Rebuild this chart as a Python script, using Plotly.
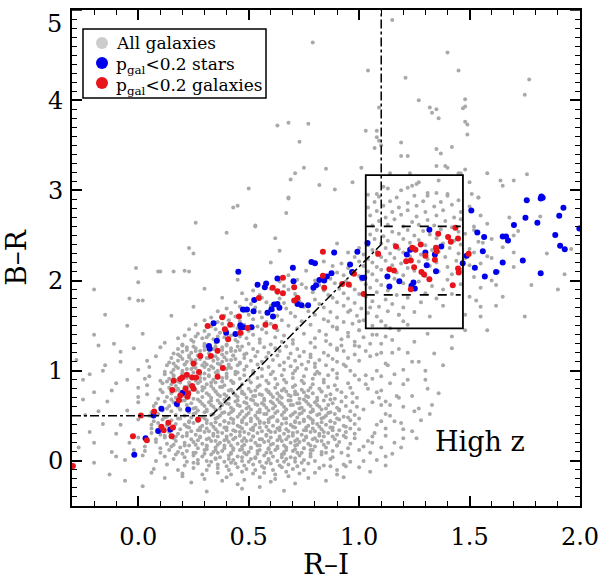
import plotly.graph_objects as go

# ---------------- data ----------------
gray_pts = [
(.02,-.28),(.31,-.34),(.55,-.29),(.66,-.33),(.47,-.31),
(.24,-.24),(.45,-.26),(.6,-.23),(.71,-.25),(.85,-.22),(.38,-.22),
(.12,-.19),(.3,-.2),(.4,-.18),(.48,-.21),(.55,-.18),(.62,-.2),(.68,-.17),(.77,-.19),(.93,-.18),(.2,-.17),
(.2,-.14),(.29,-.15),(.36,-.13),(.42,-.15),(.47,-.12),(.52,-.14),(.57,-.13),(.62,-.15),(.67,-.12),(.73,-.14),(.8,-.13),(.9,-.15),(1.05,-.12),(.06,-.13),
(.07,-.09),(.18,-.1),(.25,-.08),(.31,-.1),(.36,-.08),(.41,-.1),(.45,-.07),(.49,-.09),(.53,-.1),(.57,-.08),(.61,-.1),(.65,-.07),(.7,-.09),(.75,-.1),(.82,-.08),(.9,-.1),(1.0,-.07),
(.13,-.04),(.21,-.05),(.27,-.03),(.32,-.05),(.36,-.04),(.4,-.06),(.44,-.03),(.48,-.05),(.52,-.04),(.56,-.06),(.6,-.03),(.64,-.05),(.68,-.04),(.72,-.06),(.77,-.03),(.84,-.05),(.93,-.04),(1.12,-.05),
(-.06,.01),(.08,0),(.16,.02),(.22,-.01),(.27,.01),(.31,0),(.35,.02),(.39,-.01),(.43,.01),(.47,0),(.51,.02),(.55,-.01),(.59,.01),(.63,0),(.67,.02),(.71,-.01),(.75,.01),(.8,0),(.87,.02),(.96,-.01),(1.08,.01),
(.02,.06),(.12,.05),(.17,.07),(.21,.04),(.25,.06),(.29,.05),(.33,.07),(.37,.04),(.41,.06),(.45,.05),(.49,.07),(.53,.04),(.57,.06),(.61,.05),(.65,.07),(.69,.04),(.73,.06),(.78,.05),(.83,.07),(.88,.04),(.95,.06),(1.12,.05),
(-.12,.1),(.03,.11),(.1,.09),(.14,.12),(.18,.1),(.22,.11),(.26,.09),(.3,.12),(.34,.1),(.38,.11),(.42,.09),(.46,.12),(.5,.1),(.54,.11),(.58,.09),(.62,.12),(.66,.1),(.7,.11),(.74,.09),(.78,.12),(.83,.1),(.88,.11),(.92,.09),(1.0,.12),(1.05,.09),
(.03,.16),(.1,.14),(.15,.16),(.19,.15),(.23,.17),(.27,.14),(.31,.16),(.35,.15),(.39,.17),(.43,.14),(.47,.16),(.51,.15),(.55,.17),(.59,.14),(.63,.16),(.67,.15),(.71,.17),(.75,.14),(.8,.16),(.85,.15),(.9,.17),(.95,.14),(1.02,.16),(1.1,.15),
(-.2,.2),(.08,.21),(.13,.19),(.17,.22),(.21,.2),(.25,.21),(.29,.19),(.33,.22),(.37,.2),(.41,.21),(.45,.19),(.49,.22),(.53,.2),(.57,.21),(.61,.19),(.65,.22),(.69,.2),(.73,.21),(.77,.19),(.81,.22),(.86,.2),(.91,.21),(.96,.19),(1.04,.22),(1.16,.2),
(0,.26),(.08,.24),(.12,.26),(.16,.25),(.2,.27),(.24,.24),(.28,.26),(.32,.25),(.36,.27),(.4,.24),(.44,.26),(.48,.25),(.52,.27),(.56,.24),(.6,.26),(.64,.25),(.68,.27),(.72,.24),(.76,.26),(.8,.25),(.84,.27),(.89,.24),(.94,.26),(.98,.25),(1.06,.27),
(-.1,.3),(.06,.31),(.1,.29),(.14,.32),(.18,.3),(.22,.31),(.26,.29),(.3,.32),(.34,.3),(.38,.31),(.42,.29),(.46,.32),(.5,.3),(.54,.31),(.58,.29),(.62,.32),(.66,.3),(.7,.31),(.74,.29),(.78,.32),(.82,.3),(.86,.31),(.9,.29),(.94,.32),(.98,.3),(1.07,.31),(1.24,.33),
(.06,.36),(.11,.34),(.15,.36),(.19,.35),(.23,.37),(.27,.34),(.31,.36),(.35,.35),(.39,.37),(.43,.34),(.47,.36),(.51,.35),(.55,.37),(.59,.34),(.63,.36),(.67,.35),(.71,.37),(.75,.34),(.79,.36),(.83,.35),(.87,.37),(.91,.34),(.96,.36),(1.0,.35),(1.12,.36),
(-.16,.41),(.06,.4),(.09,.42),(.13,.39),(.17,.41),(.21,.4),(.25,.42),(.29,.39),(.33,.41),(.37,.4),(.41,.42),(.45,.39),(.49,.41),(.53,.4),(.57,.42),(.61,.39),(.65,.41),(.69,.4),(.73,.42),(.77,.39),(.81,.41),(.85,.4),(.89,.42),(.93,.39),(.98,.41),(1.08,.4),(1.19,.42),
(0,.46),(.07,.44),(.11,.46),(.15,.45),(.19,.47),(.23,.44),(.27,.46),(.31,.45),(.35,.47),(.39,.44),(.43,.46),(.47,.45),(.51,.47),(.55,.44),(.59,.46),(.63,.45),(.67,.47),(.71,.44),(.75,.46),(.79,.45),(.83,.47),(.87,.44),(.91,.46),(.96,.45),(1.0,.47),(1.1,.44),
(-.24,.51),(.05,.5),(.09,.52),(.13,.49),(.17,.51),(.21,.5),(.25,.52),(.29,.49),(.33,.51),(.37,.5),(.41,.52),(.45,.49),(.49,.51),(.53,.5),(.57,.52),(.61,.49),(.65,.51),(.69,.5),(.73,.52),(.77,.49),(.81,.51),(.85,.5),(.89,.52),(.93,.49),(.98,.51),(1.14,.5),
(-.05,.56),(.06,.54),(.11,.56),(.15,.55),(.19,.57),(.23,.54),(.27,.56),(.31,.55),(.35,.57),(.39,.54),(.43,.56),(.47,.55),(.51,.57),(.55,.54),(.59,.56),(.63,.55),(.67,.57),(.71,.54),(.75,.56),(.79,.55),(.83,.57),(.87,.54),(.91,.56),(.96,.55),(1.02,.57),(1.27,.58),
(.07,.61),(.1,.59),(.14,.61),(.18,.6),(.22,.62),(.26,.59),(.3,.61),(.34,.6),(.38,.62),(.42,.59),(.46,.61),(.5,.6),(.54,.62),(.58,.59),(.62,.61),(.66,.6),(.7,.62),(.74,.59),(.78,.61),(.82,.6),(.86,.62),(.9,.59),(.94,.61),(.99,.6),(1.1,.62),(1.2,.6),
(-.14,.66),(.08,.64),(.12,.66),(.16,.65),(.2,.67),(.24,.64),(.28,.66),(.32,.65),(.36,.67),(.4,.64),(.44,.66),(.48,.65),(.52,.67),(.56,.64),(.6,.66),(.64,.65),(.68,.67),(.72,.64),(.76,.66),(.8,.65),(.84,.67),(.88,.64),(.92,.66),(.97,.65),(1.12,.66),
(0,.71),(.09,.69),(.13,.71),(.17,.7),(.21,.72),(.25,.69),(.29,.71),(.33,.7),(.37,.72),(.41,.69),(.45,.71),(.49,.7),(.53,.72),(.57,.69),(.61,.71),(.65,.7),(.69,.72),(.73,.69),(.77,.71),(.81,.7),(.85,.72),(.89,.69),(.94,.71),(.99,.7),(1.17,.72),
(-.2,.76),(.04,.74),(.11,.76),(.15,.75),(.19,.77),(.23,.74),(.27,.76),(.31,.75),(.35,.77),(.39,.74),(.43,.76),(.47,.75),(.51,.77),(.55,.74),(.59,.76),(.63,.75),(.67,.77),(.71,.74),(.75,.76),(.79,.75),(.83,.77),(.87,.74),(.92,.76),(.97,.75),(1.08,.76),
(0,.81),(.1,.79),(.14,.81),(.18,.8),(.22,.82),(.26,.79),(.3,.81),(.34,.8),(.38,.82),(.42,.79),(.46,.81),(.5,.8),(.54,.82),(.58,.79),(.62,.81),(.66,.8),(.7,.82),(.74,.79),(.78,.81),(.82,.8),(.86,.82),(.9,.79),(.96,.81),(1.04,.8),(1.31,.8),
(-.1,.86),(.04,.84),(.11,.86),(.15,.85),(.19,.87),(.23,.84),(.27,.86),(.31,.85),(.35,.87),(.39,.84),(.43,.86),(.47,.85),(.51,.87),(.55,.84),(.59,.86),(.63,.85),(.67,.87),(.71,.84),(.75,.86),(.79,.85),(.84,.87),(.89,.84),(.95,.86),(1.03,.85),(1.14,.86),
(.03,.91),(.1,.89),(.14,.91),(.18,.9),(.22,.92),(.26,.89),(.3,.91),(.34,.9),(.38,.92),(.42,.89),(.46,.91),(.5,.9),(.54,.92),(.58,.89),(.62,.91),(.66,.9),(.7,.92),(.74,.89),(.79,.91),(.84,.9),(.9,.92),(1.0,.9),(1.06,.91),
(-.22,.96),(.05,.94),(.12,.96),(.16,.95),(.2,.97),(.24,.94),(.28,.96),(.32,.95),(.36,.97),(.4,.94),(.44,.96),(.48,.95),(.52,.97),(.56,.94),(.6,.96),(.65,.95),(.7,.97),(.75,.94),(.8,.96),(.86,.95),(.9,.97),(.98,.95),(1.1,.94),
(0,1.01),(.12,.99),(.16,1.01),(.2,1.0),(.24,1.02),(.28,.99),(.32,1.01),(.36,1.0),(.4,1.02),(.44,.99),(.48,1.01),(.52,1.0),(.56,1.02),(.61,.99),(.66,1.01),(.71,1.0),(.76,1.02),(.81,.99),(.88,1.01),(.96,1.0),(1.2,1.01),
(-.15,1.06),(.05,1.04),(.13,1.06),(.17,1.05),(.21,1.07),(.25,1.04),(.29,1.06),(.33,1.05),(.37,1.07),(.41,1.04),(.45,1.06),(.49,1.05),(.54,1.07),(.59,1.04),(.64,1.06),(.69,1.05),(.74,1.07),(.8,1.04),(.85,1.06),(.94,1.05),(1.13,1.06),
(.04,1.11),(.14,1.09),(.18,1.11),(.22,1.1),(.26,1.12),(.3,1.09),(.34,1.11),(.38,1.1),(.42,1.12),(.46,1.09),(.51,1.11),(.56,1.1),(.61,1.12),(.66,1.09),(.71,1.11),(.77,1.1),(.82,1.12),(.9,1.1),(1.0,1.11),(1.24,1.1),
(.08,1.16),(.15,1.14),(.19,1.16),(.23,1.15),(.27,1.17),(.31,1.14),(.35,1.16),(.39,1.15),(.43,1.17),(.48,1.14),(.53,1.16),(.58,1.15),(.63,1.17),(.68,1.14),(.73,1.16),(.78,1.15),(.86,1.17),(.95,1.14),(1.05,1.16),
(-.08,1.21),(.16,1.19),(.2,1.21),(.24,1.2),(.28,1.22),(.32,1.19),(.36,1.21),(.4,1.2),(.44,1.22),(.49,1.19),(.54,1.21),(.59,1.2),(.64,1.22),(.69,1.19),(.75,1.21),(.84,1.2),(.93,1.22),(1.1,1.2),
(.1,1.26),(.18,1.24),(.22,1.26),(.26,1.25),(.3,1.27),(.34,1.24),(.38,1.26),(.42,1.25),(.47,1.27),(.52,1.24),(.57,1.26),(.62,1.25),(.67,1.27),(.72,1.24),(.8,1.26),(.9,1.25),(1.0,1.27),(1.18,1.24),
(-.18,1.28),(.12,1.31),(.2,1.29),(.25,1.32),(.3,1.3),(.35,1.31),(.4,1.29),(.45,1.32),(.5,1.3),(.55,1.31),(.6,1.29),(.65,1.32),(.7,1.3),(.78,1.31),(.87,1.29),(.98,1.32),(1.1,1.3),
(.31,.13),(.35,.12),(.39,.14),(.43,.12),(.47,.13),(.51,.14),(.55,.12),(.59,.13),(.63,.14),(.67,.12),(.71,.13),(.75,.14),(.79,.12),
(.27,.23),(.31,.24),(.35,.22),(.39,.23),(.43,.24),(.47,.22),(.51,.23),(.55,.24),(.59,.22),(.63,.23),(.67,.24),(.71,.22),(.75,.23),(.79,.24),(.83,.22),
(.24,.33),(.28,.34),(.32,.33),(.36,.32),(.4,.34),(.44,.33),(.48,.32),(.52,.34),(.56,.33),(.6,.32),(.64,.34),(.68,.33),(.72,.32),(.76,.34),(.8,.33),(.84,.32),(.88,.34),
(.23,.43),(.27,.44),(.31,.42),(.35,.43),(.39,.44),(.43,.42),(.47,.43),(.51,.44),(.55,.42),(.59,.43),(.63,.44),(.67,.42),(.71,.43),(.75,.44),(.79,.42),(.83,.43),(.87,.44),
(.26,.53),(.3,.54),(.34,.52),(.38,.53),(.42,.54),(.46,.52),(.5,.53),(.54,.54),(.58,.52),(.62,.53),(.66,.54),(.7,.52),(.74,.53),(.78,.54),(.82,.52),(.86,.53),
(.29,.63),(.33,.62),(.37,.64),(.41,.63),(.45,.62),(.49,.64),(.53,.63),(.57,.62),(.61,.64),(.65,.63),(.69,.62),(.73,.64),(.77,.63),(.81,.62),
(.32,.73),(.36,.74),(.4,.72),(.44,.73),(.48,.74),(.52,.72),(.56,.73),(.6,.74),(.64,.72),(.68,.73),(.72,.74),(.76,.72),
(.35,.03),(.41,.02),(.47,.04),(.53,.03),(.59,.02),(.65,.04),(.71,.03),
(.17,.83),(.21,.82),(.25,.83),(.29,.82),(.33,.83),(.37,.82),
(.16,.93),(.2,.94),(.24,.93),(.28,.92),(.32,.94),(.36,.93),(.4,.92),
(.18,1.03),(.22,1.02),(.26,1.03),(.3,1.04),(.34,1.03),(.38,1.02),(.42,1.03),
(.2,1.13),(.24,1.12),(.28,1.13),(.32,1.14),(.36,1.13),(.4,1.12),(.44,1.13),
(.22,1.23),(.26,1.22),(.3,1.23),(.34,1.24),(.38,1.23),(.42,1.22),(.46,1.23),
(.2,.08),(.25,.09),(.3,.08),(.36,.09),(.42,.08),(.48,.09),(.54,.08),(.6,.09),(.66,.08),(.72,.09),(.78,.08),(.85,.09),
(.16,.18),(.21,.17),(.26,.18),(.31,.17),(.36,.18),(.42,.17),(.48,.18),(.54,.17),(.6,.18),(.66,.17),(.72,.18),(.78,.17),(.84,.18),(.9,.17),
(.12,.28),(.17,.27),(.22,.28),(.28,.27),(.34,.28),(.4,.27),(.46,.28),(.52,.27),(.58,.28),(.64,.27),(.7,.28),(.76,.27),(.82,.28),(.88,.27),(.93,.28),
(.1,.38),(.16,.37),(.22,.38),(.28,.37),(.34,.38),(.4,.37),(.46,.38),(.52,.37),(.58,.38),(.64,.37),(.7,.38),(.76,.37),(.82,.38),(.88,.37),(.94,.38),
(.12,.48),(.18,.47),(.24,.48),(.3,.47),(.36,.48),(.42,.47),(.48,.48),(.54,.47),(.6,.48),(.66,.47),(.72,.48),(.78,.47),(.84,.48),(.9,.47),(.95,.48),
(.13,.58),(.19,.57),(.25,.58),(.31,.57),(.37,.58),(.43,.57),(.49,.58),(.55,.57),(.61,.58),(.67,.57),(.73,.58),(.79,.57),(.85,.58),(.91,.57),
(.15,.68),(.21,.67),(.27,.68),(.33,.67),(.39,.68),(.45,.67),(.51,.68),(.57,.67),(.63,.68),(.69,.67),(.75,.68),(.81,.67),(.87,.68),
(.17,.78),(.23,.77),(.29,.78),(.35,.77),(.41,.78),(.47,.77),(.53,.78),(.59,.77),(.65,.78),(.71,.77),(.77,.78),(.83,.77),
(.25,-.02),(.33,-.01),(.42,-.02),(.5,-.01),(.58,-.02),(.66,-.01),(.74,-.02),
(.13,.88),(.18,.88),(.23,.87),(.28,.88),(.33,.87),(.38,.88),(.43,.87),
(.15,.98),(.2,.97),(.25,.98),(.3,.97),(.35,.98),(.4,.97),(.45,.98),
(.16,1.08),(.21,1.07),(.26,1.08),(.31,1.07),(.36,1.08),(.41,1.07),(.46,1.08),
(.18,1.18),(.23,1.17),(.28,1.18),(.33,1.17),(.38,1.18),(.43,1.17),(.48,1.18),
(.2,1.28),(.25,1.27),(.3,1.28),(.35,1.27),(.4,1.28),(.45,1.27),
(.26,1.38),(.31,1.37),(.36,1.38),(.41,1.37),(.46,1.38),
(.72,1.03),(.8,1.08),(.88,1.13),(.78,1.18),(.9,1.23),(.85,1.33),(.95,1.38),(.9,1.48),(1.0,1.55),(.95,1.65),
(1.05,1.7),(.86,1.55),(.92,1.28),(.98,1.18),(.82,.97),(.93,1.07),
(.18,1.36),(.24,1.34),(.29,1.36),(.34,1.35),(.39,1.37),(.44,1.34),(.49,1.36),(.55,1.35),(.62,1.37),(.7,1.34),(.8,1.36),(.92,1.35),(1.02,1.37),
(.02,1.41),(.21,1.39),(.27,1.41),(.32,1.4),(.37,1.42),(.42,1.39),(.47,1.41),(.52,1.4),(.58,1.42),(.66,1.39),(.75,1.41),(.85,1.4),(.95,1.42),(1.08,1.4),
(.23,1.46),(.3,1.44),(.35,1.46),(.4,1.45),(.45,1.47),(.5,1.44),(.56,1.46),(.63,1.45),(.72,1.47),(.82,1.44),(.9,1.46),(1.0,1.45),(1.14,1.47),
(-.05,1.5),(.26,1.51),(.33,1.49),(.38,1.52),(.43,1.5),(.48,1.51),(.54,1.49),(.6,1.52),(.68,1.5),(.78,1.51),(.88,1.49),(.97,1.52),(1.06,1.5),(1.22,1.51),
(.3,1.56),(.36,1.54),(.41,1.56),(.46,1.55),(.52,1.57),(.58,1.54),(.65,1.56),(.74,1.55),(.84,1.57),(.93,1.54),(1.02,1.56),(1.1,1.55),
(.15,1.61),(.33,1.59),(.39,1.61),(.44,1.6),(.5,1.62),(.56,1.59),(.63,1.61),(.71,1.6),(.8,1.62),(.9,1.59),(.99,1.61),(1.08,1.6),(1.18,1.62),(1.32,1.6),
(.36,1.66),(.42,1.64),(.48,1.66),(.55,1.65),(.61,1.67),(.69,1.64),(.77,1.66),(.87,1.65),(.96,1.67),(1.04,1.64),(1.13,1.66),(1.25,1.65),
(.25,1.71),(.4,1.69),(.46,1.71),(.53,1.7),(.6,1.72),(.67,1.69),(.75,1.71),(.84,1.7),(.93,1.72),(1.01,1.69),(1.09,1.71),(1.2,1.7),(1.38,1.72),
(.44,1.76),(.51,1.74),(.58,1.76),(.66,1.75),(.73,1.77),(.82,1.74),(.9,1.76),(.98,1.75),(1.06,1.77),(1.15,1.74),(1.28,1.76),
(.02,1.78),(.38,1.81),(.49,1.79),(.56,1.81),(.64,1.8),(.72,1.82),(.8,1.79),(.88,1.81),(.95,1.8),(1.03,1.82),(1.12,1.79),(1.22,1.81),(1.35,1.8),(1.5,1.82),
(.47,1.86),(.55,1.84),(.63,1.86),(.71,1.85),(.79,1.87),(.86,1.84),(.93,1.86),(1.0,1.85),(1.08,1.87),(1.17,1.84),(1.3,1.86),(1.42,1.85),
(-.2,1.9),(.3,1.91),(.52,1.89),(.6,1.91),(.68,1.9),(.76,1.92),(.84,1.89),(.91,1.91),(.98,1.9),(1.05,1.92),(1.13,1.89),(1.25,1.91),(1.38,1.9),(1.55,1.92),
(.58,1.96),(.66,1.94),(.74,1.96),(.82,1.95),(.89,1.97),(.96,1.94),(1.03,1.96),(1.1,1.95),(1.2,1.97),(1.33,1.94),(1.46,1.96),
(0,1.98),(.45,2.01),(.64,1.99),(.72,2.01),(.8,2.0),(.87,2.02),(.94,1.99),(1.01,2.01),(1.08,2.0),(1.16,2.02),(1.27,1.99),(1.4,2.01),(1.6,2.0),
(.68,2.06),(.85,2.04),(.93,2.06),(1.0,2.05),(1.06,2.07),(1.13,2.04),(1.2,2.06),(1.3,2.05),(1.42,2.07),(1.52,2.04),
(.1,2.1),(.16,2.1),(.21,2.11),(.76,2.11),(.9,2.09),(.97,2.11),(1.04,2.1),(1.1,2.12),(1.17,2.09),(1.25,2.11),(1.36,2.1),(1.46,2.12),(1.63,2.1),
(.88,2.16),(.95,2.14),(1.02,2.16),(1.08,2.15),(1.15,2.17),(1.22,2.14),(1.32,2.16),(1.4,2.15),(1.5,2.17),(1.7,2.15),
(.6,2.2),(.84,2.21),(.92,2.19),(1.0,2.21),(1.06,2.2),(1.12,2.22),(1.19,2.19),(1.27,2.21),(1.35,2.2),(1.44,2.22),(1.55,2.19),
(.98,2.26),(1.04,2.24),(1.1,2.26),(1.16,2.25),(1.23,2.27),(1.31,2.24),(1.39,2.26),(1.48,2.25),(1.58,2.27),
(.25,2.3),(.95,2.31),(1.02,2.29),(1.08,2.32),(1.14,2.3),(1.2,2.31),(1.28,2.29),(1.36,2.32),(1.45,2.3),(1.52,2.31),
(.23,2.36),(1.0,2.36),(1.06,2.34),(1.12,2.36),(1.18,2.35),(1.25,2.37),(1.33,2.34),(1.41,2.36),(1.5,2.35),(1.65,2.37),
(.9,2.41),(1.04,2.39),(1.1,2.41),(1.16,2.4),(1.23,2.42),(1.3,2.39),(1.38,2.41),(1.46,2.4),(1.56,2.42),
(.62,2.47),(1.07,2.46),(1.13,2.44),(1.2,2.46),(1.27,2.45),(1.35,2.47),(1.43,2.44),(1.6,2.46),
(.4,2.53),(1.05,2.51),(1.11,2.49),(1.18,2.52),(1.25,2.5),(1.32,2.51),(1.4,2.49),(1.48,2.52),(1.7,2.5),
(.53,2.6),(1.08,2.56),(1.15,2.54),(1.22,2.56),(1.29,2.55),(1.37,2.57),(1.45,2.54),(1.52,2.56),
(.26,2.64),(1.06,2.61),(1.13,2.62),(1.2,2.6),(1.27,2.62),(1.34,2.61),(1.42,2.59),(1.58,2.63),
(1.09,2.66),(1.16,2.68),(1.24,2.65),(1.31,2.67),(1.39,2.66),(1.46,2.68),
(1.05,2.72),(1.12,2.7),(1.19,2.73),(1.26,2.71),(1.35,2.72),(1.43,2.7),(1.55,2.72),(1.82,2.71),
(.67,2.75),(1.08,2.77),(1.15,2.76),(1.22,2.78),(1.3,2.76),(1.38,2.78),(1.46,2.76),
(.43,2.81),(.45,2.83),(1.04,2.81),(1.11,2.83),(1.18,2.81),(1.26,2.83),(1.34,2.82),(1.42,2.84),(1.5,2.82),
(1.07,2.87),(1.14,2.88),(1.22,2.86),(1.29,2.88),(1.37,2.87),(1.45,2.89),
(.68,2.91),(1.09,2.93),(1.17,2.92),(1.25,2.94),(1.31,2.94),(1.4,2.94),(1.54,2.92),
(.79,4.64),(1.15,4.89),(1.04,4.33),(1.21,4.25),(1.4,4.53),(1.45,4.33),(1.77,4.23),(1.75,4.06),(.77,3.74),
(1.27,4.0),(1.32,3.92),(1.35,3.9),(1.33,3.86),(1.36,3.8),(1.48,4.01),(1.48,3.93),(1.47,3.91),(1.48,3.76),
(1.49,3.73),(1.49,3.62),(1.09,3.92),(1.03,3.66),(1.08,3.66),(1.08,3.59),(1.09,3.55),(1.07,3.47),(1.1,3.5),
(1.19,3.53),(1.19,3.38),(1.22,3.38),(1.35,3.46),(1.37,3.41),(1.42,3.48),(1.35,3.27),(1.39,3.27),(1.4,3.25),
(1.48,3.23),(1.45,3.19),(1.46,3.19),(1.58,3.19),(1.76,3.18),(1.64,3.11),(1.65,3.05),(1.7,3.11),(1.5,3.09),
(1.51,2.96),(1.54,2.92),(.97,3.09),(.89,3.01),(.82,3.06),(.75,3.25),(.85,3.24),(1.01,3.25),(1.14,3.19),
(1.23,3.19),(1.13,3.02),(1.11,3.04),(1.19,3.0),(1.22,3.03),(1.24,3.05),(1.27,3.09),(1.26,3.07),(1.36,3.11),
(1.35,2.97),(1.4,2.96),(1.31,2.97),(1.04,2.95),(1.08,2.96),
(.63,3.72),(.68,3.75),(.73,3.54),(.5,3.02),(.71,3.19),(.69,3.12),(.68,2.92),(.53,2.61),(.64,2.33),
(-.01,2.14),(.09,2.1),(.23,2.1),(-.15,1.62),(-.11,1.3),(-.04,1.8),(0,1.78),
(1.54,2.43),(1.7,2.31),(1.78,1.95),(1.65,1.82),(1.55,1.71),(1.48,1.62),(1.53,1.78),(1.93,2.07),(1.6,2.25),
(1.72,2.55),(1.85,2.3),(1.62,1.95),(1.68,2.7),(1.58,1.45),(1.75,1.6),(1.9,1.9),(1.52,2.6),(1.96,2.35),
(1.02,0),(1.15,.08),(1.2,.25),(1.28,.45),(1.33,.62),(1.36,.75),(1.22,.9),(1.3,1.0),(1.38,1.06),(1.34,1.19),
(1.31,1.41),(1.42,1.38),(1.25,1.32),(1.15,1.2),(1.08,1.0),(1.18,.7),(1.25,.55),(1.12,.52),(1.06,.65),(1.2,.35),
(1.12,.28),(.87,-.06),(.94,-.06),(1.18,1.45),(1.2,1.55),(1.12,1.38),(1.42,1.25),(1.48,1.45),(1.55,1.6),(1.62,1.72),
(1.0,1.45),(1.05,1.3),(1.08,1.18),(1.12,1.08),(1.16,.96),(1.2,.85),(1.24,.72),(1.1,.78),(1.14,.62),(1.03,.95),
(1.06,1.4),(1.15,1.34),(1.22,1.2),(1.27,1.1),(1.3,.9),(1.12,1.5),(1.18,1.62),(.98,1.28),(1.03,1.22),(1.09,.7),
(1.16,.44),(1.26,.25),(1.32,.52),(1.06,.2),(1.19,.15),
(-.27,.15),(-.22,.32),(-.18,.55),(-.25,.68),(-.12,.78),(-.05,.9),(-.16,1.0),(-.28,1.12),(-.08,1.1),(-.02,1.25),
(-.2,-.02),(-.1,.05),(-.04,.2),(-.08,.4),(0,.65),(-.02,.12),(-.13,-.15),(-.06,-.22),(-.2,1.4),(-.25,.9),
]
gray_x = [p[0] for p in gray_pts]
gray_y = [p[1] for p in gray_pts]

star_pts = [
(0.453,2.097),(0.700,2.141),(0.703,1.993),(0.630,2.022),(0.540,1.952),(0.579,1.967),(0.573,1.926),
(0.525,1.785),(0.474,1.678),(0.492,1.678),(0.615,1.733),(0.630,1.741),(0.639,1.697),(0.603,1.681),
(0.522,1.659),(0.585,1.644),(0.610,1.600),(0.721,1.741),(0.341,1.526),(0.462,1.504),(0.465,1.481),
(0.475,1.481),(0.513,1.481),(0.398,1.422),(0.440,1.407),(0.356,1.333),(0.320,1.274),(0.323,1.244),
(0.202,0.756),(0.175,0.630),(0.105,0.578),(0.226,0.570),(0.069,0.504),(0.090,0.333),(0.145,0.348),
(0.033,0.252),(-0.018,0.067),
(1.825,2.933),(1.831,2.919),(1.822,2.911),(1.759,2.889),(1.925,2.807),(1.508,2.778),(1.906,2.719),
(1.753,2.696),(1.807,2.641),(1.701,2.615),(1.997,2.578),(1.318,2.563),(1.535,2.533),(1.888,2.504),
(1.566,2.482),(1.650,2.489),(1.665,2.489),(1.674,2.444),(1.372,2.378),(1.038,2.415),(1.910,2.385),
(1.931,2.348),(0.887,2.311),(0.992,2.319),(1.231,2.341),(1.300,2.311),(1.216,2.289),(1.343,2.289),
(1.560,2.326),(1.487,2.274),(0.784,2.207),(0.800,2.193),(1.469,2.193),(1.650,2.200),(1.741,2.222),
(0.959,2.178),(1.306,2.170),(1.524,2.141),(0.875,2.081),(0.968,2.096),(1.348,2.104),(1.620,2.096),
(1.822,2.081),(0.854,2.044),(0.820,2.007),(0.842,2.000),(1.014,2.030),(1.023,2.030),(1.128,2.044),
(1.569,2.044),(0.805,1.948),(0.793,1.919),(1.182,1.993),(1.137,1.933),(1.246,1.978),(1.237,1.941),
(1.252,1.911),(0.739,1.726),(0.769,1.726),
]
star_x = [p[0] for p in star_pts]
star_y = [p[1] for p in star_pts]

galaxy_pts = [
(0.655,2.030),(0.609,1.919),(0.630,1.881),(0.655,1.859),(0.706,1.926),(0.706,1.778),(0.721,1.807),
(0.546,1.807),(0.456,1.600),(0.380,1.593),(0.314,1.496),(0.416,1.511),(0.392,1.459),(0.462,1.422),
(0.495,1.474),(0.576,1.511),(0.619,1.489),(0.407,1.348),(0.359,1.222),(0.329,1.163),(0.281,1.163),
(0.250,1.081),(0.383,1.030),(0.275,0.985),(0.220,0.956),(0.244,0.926),(0.262,0.926),(0.199,0.926),
(0.160,0.889),(0.190,0.907),(0.359,0.933),(0.154,0.785),
(0.244,0.830),(0.250,0.800),(0.214,0.800),(0.190,0.726),(0.226,0.748),(0.223,0.711),(0.184,0.674),
(0.072,0.548),(0.012,0.504),(0.271,0.459),(0.136,0.422),(0.105,0.378),(0.115,0.341),(0.157,0.370),
(0.151,0.274),(-0.024,0.274),(0.039,0.230),(-0.296,-0.056),
(1.436,2.585),(1.358,2.519),(1.403,2.482),(1.448,2.467),(1.415,2.430),(1.279,2.400),(1.167,2.378),
(1.240,2.363),(1.255,2.341),(1.348,2.363),(1.351,2.326),(1.300,2.274),(1.086,2.296),(0.836,2.319),
(1.496,2.296),(1.234,2.222),(1.213,2.215),(1.343,2.230),(1.249,2.148),(1.137,2.126),(1.158,2.111),
(1.282,2.096),(1.294,2.067),(1.448,2.133),(1.451,2.089),(1.318,2.015),(0.836,2.052),(0.923,1.963),
(0.953,1.956),(0.977,2.074),(0.842,1.919),(1.424,1.948),(1.234,1.904),(1.020,1.852),
]
galaxy_x = [p[0] for p in galaxy_pts]
galaxy_y = [p[1] for p in galaxy_pts]

# selection boundaries
cut_x = [-0.3, 0.33, 1.1, 1.1]
cut_y = [0.5, 0.5, 2.4, 5.0]
box_x = [1.03, 1.47]
box_y = [1.47, 3.17]
dash_x = [1.03, 1.46]
dash_y = [1.84, 2.6]

y_ticks = [0, 1, 2, 3, 4, 5]

legend_labels = ["All galaxies", "p<sub>gal</sub>&lt;0.2 stars", "p<sub>gal</sub>&lt;0.2 galaxies"]
legend_colors = ["#cccccc", "rgb(0,0,235)", "rgb(232,20,28)"]

# ---------------- figure ----------------
FONT = "DejaVu Serif"
W, H = 603, 581
ML, MR, MT, MB = 72, 23, 10, 75
PW, PH = W - ML - MR, H - MT - MB


def px_to_paper_x(px):
    return (px - ML) / PW


def px_to_paper_y(py):
    return 1 - (py - MT) / PH


GRAY = "#a9a9a9"
BLUE = legend_colors[1]
RED = legend_colors[2]

fig = go.Figure()
fig.add_trace(go.Scatter(x=gray_x, y=gray_y, mode="markers", showlegend=False,
                         marker=dict(size=4, color=GRAY)))
fig.add_trace(go.Scatter(x=star_x, y=star_y, mode="markers", showlegend=False,
                         marker=dict(size=6, color=BLUE)))
fig.add_trace(go.Scatter(x=galaxy_x, y=galaxy_y, mode="markers", showlegend=False,
                         marker=dict(size=6, color=RED)))

# dash-dot cut line
for i in range(len(cut_x) - 1):
    fig.add_shape(type="line", x0=cut_x[i], y0=cut_y[i], x1=cut_x[i+1], y1=cut_y[i+1],
                  line=dict(color="black", width=1.5, dash="dashdot"), layer="above")
fig.add_shape(type="rect", x0=box_x[0], x1=box_x[1], y0=box_y[0], y1=box_y[1],
              line=dict(color="black", width=1.8), layer="above")
for yv in dash_y:
    fig.add_shape(type="line", x0=dash_x[0], x1=dash_x[1], y0=yv, y1=yv,
                  line=dict(color="black", width=1.8, dash="dash"), layer="above")

# legend box drawn by hand (pixel layout)
LEG_L, LEG_R, LEG_T, LEG_B = 83, 266, 29, 98
fig.add_shape(type="rect", xref="paper", yref="paper",
              x0=px_to_paper_x(LEG_L), x1=px_to_paper_x(LEG_R),
              y0=px_to_paper_y(LEG_B), y1=px_to_paper_y(LEG_T),
              line=dict(color="black", width=1.5), fillcolor="white", layer="above")
for k, (lab, col) in enumerate(zip(legend_labels, legend_colors)):
    cy = px_to_paper_y(43 + 20 * k)
    cx = px_to_paper_x(102)
    fig.add_shape(type="circle", xref="paper", yref="paper",
                  xsizemode="pixel", ysizemode="pixel", xanchor=cx, yanchor=cy,
                  x0=-6, x1=6, y0=-6, y1=6,
                  line=dict(width=0), fillcolor=col, layer="above")
    fig.add_annotation(xref="paper", yref="paper", x=px_to_paper_x(114), y=cy,
                       xanchor="left", yanchor="middle", showarrow=False, text=lab,
                       yshift=0 if k == 0 else -3,
                       font=dict(family=FONT, size=17, color="black"))

fig.add_annotation(x=1.545, y=0.22, text="High z", showarrow=False,
                   font=dict(family=FONT, size=27, color="black"))

# top y label sits just below its tick (as in the original) so it stays inside the page
fig.add_annotation(xref="paper", yref="y", x=px_to_paper_x(64), y=y_ticks[-1],
                   xanchor="right", yanchor="top", yshift=2, showarrow=False,
                   text=str(y_ticks[-1]), font=dict(family=FONT, size=24, color="black"))

axis_common = dict(showgrid=False, zeroline=False, showline=True, linecolor="black",
                   linewidth=2, mirror="allticks", ticks="inside", tickcolor="black",
                   tickwidth=1.5, ticklen=10,
                   tickfont=dict(family=FONT, size=24, color="black"))
fig.update_xaxes(range=[-0.3, 2.0], tick0=0, dtick=0.5, tickformat=".1f",
                 minor=dict(tick0=0, dtick=0.1, ticks="inside", ticklen=5,
                            tickwidth=1.2, tickcolor="black"),
                 ticklabelstandoff=8, automargin="bottom",
                 title=dict(text="R–I", font=dict(family=FONT, size=28, color="black"), standoff=2),
                 **axis_common)
fig.update_yaxes(range=[-0.5, 5.0], tickmode="array", tickvals=y_ticks[:-1],
                 ticktext=[str(v) for v in y_ticks[:-1]],
                 minor=dict(tick0=0, dtick=0.1, ticks="inside", ticklen=5,
                            tickwidth=1.2, tickcolor="black"),
                 automargin="left",
                 title=dict(text="B–R", font=dict(family=FONT, size=28, color="black"), standoff=15),
                 ticklabelstandoff=2,
                 **axis_common)
# major tick at the top edge (label given by the annotation above)
fig.add_shape(type="line", xref="paper", yref="y", x0=0, x1=px_to_paper_x(ML + 10) , y0=5, y1=5,
              line=dict(color="black", width=1.5))
fig.add_shape(type="line", xref="paper", yref="y", x0=1, x1=1 - 10 / PW, y0=5, y1=5,
              line=dict(color="black", width=1.5))

fig.update_layout(
    width=W, height=H,
    margin=dict(l=ML, r=MR, t=MT, b=MB),
    paper_bgcolor="white", plot_bgcolor="white",
    showlegend=False,
)

fig.write_html("out.html")
